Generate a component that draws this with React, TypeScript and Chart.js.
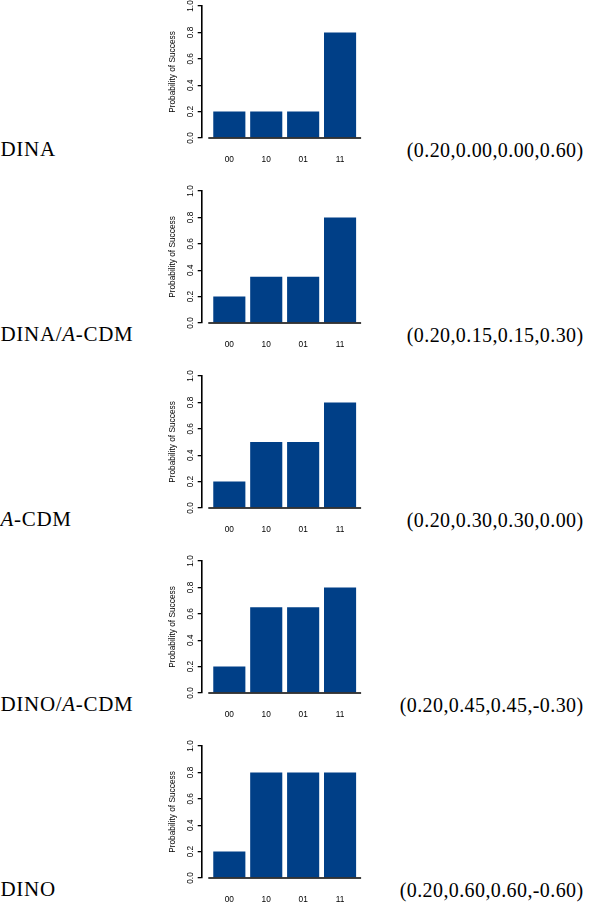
import { useEffect, useRef } from "react"
import { Chart, registerables } from "chart.js"

Chart.register(...registerables)

// category labels (attribute patterns) and tick labels
const categories = ["00", "10", "01", "11"]
const yTickLabels = ["0.0", "0.2", "0.4", "0.6", "0.8", "1.0"]

// probability of success per pattern, one array per model
const dinaValues = [0.2, 0.2, 0.2, 0.8]
const dinaAcdmValues = [0.2, 0.35, 0.35, 0.8]
const acdmValues = [0.2, 0.5, 0.5, 0.8]
const dinoAcdmValues = [0.2, 0.65, 0.65, 0.8]
const dinoValues = [0.2, 0.8, 0.8, 0.8]

// model names and their parameter vectors
const modelNames = ["DINA", "DINA/A-CDM", "A-CDM", "DINO/A-CDM", "DINO"]
const paramLabels = [
  "(0.20,0.00,0.00,0.60)",
  "(0.20,0.15,0.15,0.30)",
  "(0.20,0.30,0.30,0.00)",
  "(0.20,0.45,0.45,-0.30)",
  "(0.20,0.60,0.60,-0.60)",
]
const panelValues = [dinaValues, dinaAcdmValues, acdmValues, dinoAcdmValues, dinoValues]

const BAR_COLOR = "#003F87"
const PANEL_STEP = 185
const AXIS_FONT = { family: "'Liberation Sans', Arial, sans-serif", size: 8.3 }

// R barplot layout: width 1, space 0.2
const barCenter = (i: number) => 0.2 + i * 1.2 + 0.5
const PLOT_MIN = 0.016
const PLOT_MAX = 4.984

// draws the horizontal line at zero across the plot region
const baselinePlugin = {
  id: "baseline",
  afterDatasetsDraw(chart: Chart) {
    const { ctx } = chart
    const x = chart.scales.x
    const y = chart.scales.y
    const py = y.getPixelForValue(0)
    ctx.save()
    ctx.strokeStyle = "#000"
    ctx.lineWidth = 1.6
    ctx.beginPath()
    ctx.moveTo(x.getPixelForValue(PLOT_MIN), py)
    ctx.lineTo(x.getPixelForValue(PLOT_MAX), py)
    ctx.stroke()
    ctx.restore()
  },
}

function Panel({ values }: { values: number[] }) {
  const canvasRef = useRef<HTMLCanvasElement>(null)

  useEffect(() => {
    if (!canvasRef.current) return
    const chart = new Chart(canvasRef.current, {
      type: "bar",
      data: {
        datasets: [
          {
            data: values.map((v, i) => ({ x: barCenter(i), y: v })),
            backgroundColor: BAR_COLOR,
            borderWidth: 0,
            categoryPercentage: 1,
            barPercentage: 0.87,
          },
        ],
      },
      options: {
        responsive: true,
        maintainAspectRatio: false,
        animation: false,
        events: [],
        layout: { padding: { top: 6, right: 3.9, left: 0, bottom: 0 } },
        plugins: { legend: { display: false }, tooltip: { enabled: false } },
        scales: {
          x: {
            type: "linear",
            offset: false,
            min: -0.198,
            max: PLOT_MAX,
            afterBuildTicks: (scale: any) => {
              scale.ticks = categories.map((_, i) => ({ value: barCenter(i) }))
            },
            afterFit: (scale: any) => {
              scale.height = 37
            },
            grid: { display: false, drawTicks: false },
            border: { display: false },
            ticks: {
              autoSkip: false,
              maxRotation: 0,
              padding: 17,
              color: "#000",
              font: AXIS_FONT,
              callback: (_v: any, i: number) => categories[i],
            },
          },
          y: {
            min: 0,
            max: 1,
            afterFit: (scale: any) => {
              scale.width = 41.7
            },
            grid: {
              drawOnChartArea: false,
              tickLength: 4,
              color: "#000",
              lineWidth: 1.3,
            },
            border: { display: true, color: "#000", width: 1.6 },
            ticks: {
              stepSize: 0.2,
              minRotation: 90,
              maxRotation: 90,
              crossAlign: "center",
              padding: 1,
              color: "#000",
              font: AXIS_FONT,
              callback: (_v: any, i: number) => yTickLabels[i],
            },
            title: {
              display: true,
              text: "Probability of Success",
              color: "#000",
              font: AXIS_FONT,
              padding: { top: 8, bottom: 0 },
            },
          },
        },
      },
      plugins: [baselinePlugin],
    })
    return () => chart.destroy()
  }, [values])

  return (
    <div style={{ position: "absolute", left: 160, top: 0, width: 205, height: 175 }}>
      <canvas ref={canvasRef}></canvas>
    </div>
  )
}

// italic A in the A-CDM names
function ModelName({ name }: { name: string }) {
  const parts = name.split("A-CDM")
  if (parts.length === 1) return <>{name}</>
  return (
    <>
      {parts[0]}
      <i>A</i>-CDM
    </>
  )
}

const textStyle = {
  position: "absolute" as const,
  fontFamily: "'Liberation Serif', 'Times New Roman', serif",
  color: "#000",
  whiteSpace: "nowrap" as const,
}

export default function App() {
  return (
    <div style={{ position: "fixed", left: 0, top: 0, width: 589, height: 904, background: "#fff", overflow: "hidden" }}>
      {panelValues.map((values, i) => (
        <div key={i} style={{ position: "absolute", left: 0, top: i * PANEL_STEP, width: 589, height: PANEL_STEP }}>
          <Panel values={values} />
          <div
            style={{
              ...textStyle,
              left: 0.5,
              top: 139,
              fontSize: 21,
              lineHeight: "21px",
              letterSpacing: "0.7px",
            }}
          >
            <ModelName name={modelNames[i]} />
          </div>
          <div
            style={{
              ...textStyle,
              right: 5.5,
              top: 139.75,
              fontSize: 20,
              lineHeight: "20px",
              letterSpacing: "0.4px",
              textAlign: "right",
            }}
          >
            {paramLabels[i]}
          </div>
        </div>
      ))}
    </div>
  )
}
